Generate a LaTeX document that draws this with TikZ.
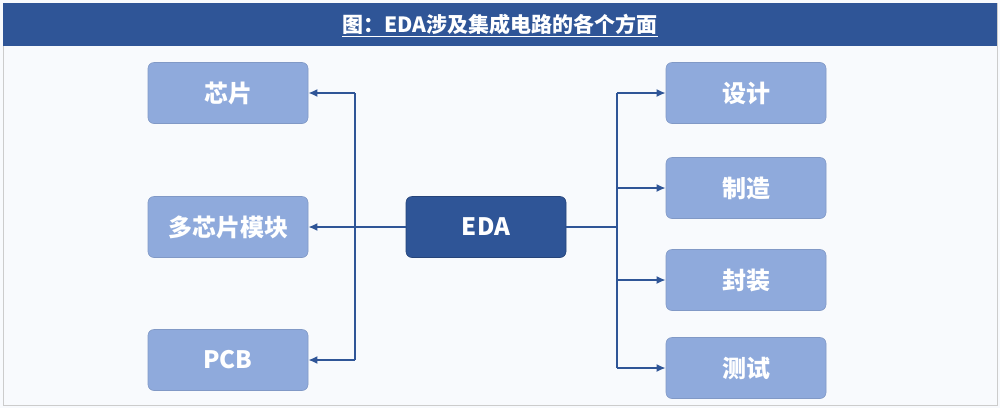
\documentclass[tikz,border=0pt]{standalone}
\usepackage{fontspec}
\newfontfamily\cjk{Noto Sans CJK SC}
\usetikzlibrary{arrows.meta}
\definecolor{titlebg}{HTML}{2F5597}
\definecolor{lightbox}{HTML}{8FAADC}
\definecolor{darkbox}{HTML}{2F5597}
\definecolor{linec}{HTML}{2F5597}
\definecolor{pagebg}{HTML}{F8FAFD}
\tikzset{
  lbox/.style={draw=lightbox!90!black, line width=0.6pt, fill=lightbox, rounded corners=6pt, minimum width=160, minimum height=61, text=white, font=\cjk\bfseries\fontsize{24}{26}\selectfont},
  dbox/.style={lbox, fill=darkbox, draw=darkbox!80!black},
  conn/.style={draw=linec, line width=2pt, -{Latex[length=9pt,width=8pt]}},
  trunk/.style={draw=linec, line width=2pt}
}
\begin{document}
\begin{tikzpicture}[x=1pt,y=-1pt]
\useasboundingbox (0,0) rectangle (1000,408);
\fill[pagebg] (0,0) rectangle (1000,408);
\draw[gray!40, line width=0.8pt] (3,3) rectangle (997,405);
\fill[titlebg] (3,3) rectangle (997,46);
\node[text=white, font=\cjk\bfseries\fontsize{21}{23}\selectfont] (title) at (500,25) {\underline{图：EDA涉及集成电路的各个方面}};
\node[lbox] (chip) at (228,93) {芯片};
\node[lbox] (mcm) at (228,227) {多芯片模块};
\node[lbox] (pcb) at (228,360) {PCB};
\node[dbox] (eda) at (486,227) {EDA};
\node[lbox] (r1) at (746,93) {设计};
\node[lbox] (r2) at (746,188) {制造};
\node[lbox] (r3) at (746,280) {封装};
\node[lbox] (r4) at (746,368) {测试};
\coordinate (lt) at (355,93);
\coordinate (lb) at (355,360);
\coordinate (rt) at (617,93);
\coordinate (rb) at (617,368);
\draw[trunk] (lt) -- (lb);
\draw[trunk] (rt) -- (rb);
\draw[conn] (lt) -- (chip.east);
\draw[conn] (eda.west) -- (mcm.east);
\draw[conn] (lb) -- (pcb.east);
\draw[trunk] (eda.east) -- (rt |- eda.east);
\draw[conn] (rt) -- (r1.west);
\draw[conn] (rt |- r2) -- (r2.west);
\draw[conn] (rt |- r3) -- (r3.west);
\draw[conn] (rb) -- (r4.west);
\end{tikzpicture}
\end{document}
